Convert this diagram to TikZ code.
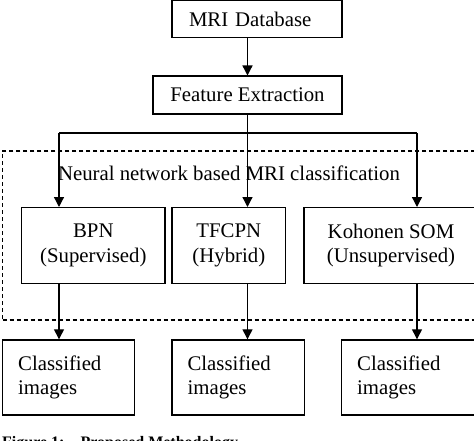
\documentclass[tikz,border=0pt]{standalone}
\usepackage{fontspec}
\setmainfont{Liberation Serif}
\usetikzlibrary{arrows.meta}
\begin{document}
\begin{tikzpicture}[x=1pt,y=-1pt,
  txt/.style={font=\fontsize{20.8}{24.3}\selectfont},
  box/.style={draw, line width=1.4pt, inner sep=0pt, txt, align=center},
  lbox/.style={draw, line width=1.4pt, txt, align=left, inner ysep=0pt, minimum height=75pt},
  conn/.style={line width=1.3pt},
  arr/.style={line width=1.3pt, -{Triangle[length=10pt,width=10pt]}},
  dashbox/.style={draw, line width=1.3pt, dash pattern=on 4pt off 3pt, inner sep=0pt}]
\useasboundingbox (0,0) rectangle (474,441);

% group (dashed)
\node[dashbox, minimum width=477.3pt, minimum height=169pt] (grp) at (241.35,235.5) {};

% top boxes
\node[draw, line width=1.4pt, txt, align=left, text width=136pt, inner xsep=17pt, inner ysep=0pt, minimum height=37pt] (mri) at (257,19) {MRI Database};
\node[box, minimum width=189pt, minimum height=38pt] (fe) at (247.5,95.2) {Feature Extraction};

% classifiers
\node[box, minimum width=143.3pt, minimum height=75.6pt] (bpn) at (93.3,245.5) {BPN\\(Supervised)};
\node[box, minimum width=113.7pt, minimum height=75.6pt] (tfc) at (228.8,245.5) {TFCPN\\(Hybrid)};
\node[box, minimum width=174pt, minimum height=75.6pt] (koh) at (391,245.5) {Kohonen SOM\\(Unsupervised)};

% outputs
\node[lbox, text width=101pt, inner xsep=15.5pt] (c1) at (68.7,377.5) {Classified\\images};
\node[lbox, text width=101.3pt, inner xsep=15.5pt] (c2) at (238.2,377.5) {Classified\\images};
\node[lbox, text width=105.3pt, inner xsep=15.5pt] (c3) at (409.85,377.5) {Classified\\images};

% group label
\node[txt, anchor=base, inner sep=0pt] (lbl) at (229,180) {Neural network based MRI classification};

% split points
\coordinate (s1) at (59,133);
\coordinate (s2) at (247.5,133);
\coordinate (s3) at (417,133);

% connectors
\draw[arr] (mri.south -| fe.north) -- (fe.north);
\draw[conn] (fe.south) -- (s2);
\draw[conn] (s1) -- (s3);
\draw[arr] (s1) -- (s1 |- bpn.north);
\draw[arr] (s2) -- (s2 |- tfc.north);
\draw[arr] (s3) -- (s3 |- koh.north);
\draw[arr] (bpn.south -| s1) -- (c1.north -| s1);
\draw[arr] (tfc.south -| s2) -- (c2.north -| s2);
\draw[arr] (koh.south -| s3) -- (c3.north -| s3);

% caption (cut by the page edge, as in the reference)
\node[anchor=base west, inner sep=0pt, font=\fontsize{16}{19}\selectfont\bfseries] (cap) at (2,447) {Figure 1:\hspace{16pt}Proposed Methodology};
\end{tikzpicture}
\end{document}
